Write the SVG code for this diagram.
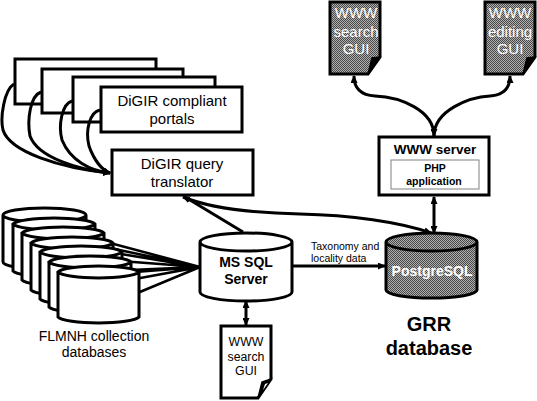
<svg xmlns="http://www.w3.org/2000/svg" width="537" height="401" viewBox="0 0 537 401">
<style>
text{font-family:"Liberation Sans",Arial,sans-serif;text-anchor:middle;fill:#000}
.box{fill:#fff;stroke:#000;stroke-width:3}
.cyl{fill:#fff;stroke:#000;stroke-width:3}
.gray{fill:url(#dith);stroke:#000;stroke-width:3}
.con{fill:none;stroke:#000;stroke-width:3}
.thin{fill:none;stroke:#000;stroke-width:2.5}
.w{fill:#fff}
.b{font-weight:bold}
.s{text-anchor:start}
</style>
<defs>
<pattern id="dith" width="2" height="2" patternUnits="userSpaceOnUse"><rect width="2" height="2" fill="#b0b0b0"/><rect width="1" height="1" fill="#484848"/><rect x="1" y="1" width="1" height="1" fill="#484848"/></pattern>
<marker id="a" markerWidth="8" markerHeight="7" refX="7" refY="3.500" orient="auto-start-reverse" markerUnits="userSpaceOnUse"><path d="M0 0L8 3.500L0 7z" fill="#000"/></marker>
</defs>
<g id="portal1"><rect class="box" x="15" y="59" width="141" height="45"/></g>
<g id="portal2"><rect class="box" x="42" y="69" width="141" height="44"/></g>
<g id="portal3"><rect class="box" x="73" y="77" width="142" height="45"/></g>
<g id="portal4"><rect class="box" x="101" y="87" width="141" height="45"/><text x="172" y="106" font-size="15">DiGIR compliant</text><text x="172" y="124" font-size="15">portals</text></g>
<g id="translator"><rect class="box" x="112" y="150" width="141" height="45"/><text x="182" y="169" font-size="15">DiGIR query</text><text x="182" y="187" font-size="15">translator</text></g>
<g id="connectors">
<path class="con" d="M14 84C4 90 0 118 3 130C10 152 60 168 110 173" marker-end="url(#a)"/>
<path class="con" d="M41 92C30 96 27 120 30 136C38 158 80 170 110 173" marker-end="url(#a)"/>
<path class="con" d="M72 101C62 104 58 125 62 140C70 160 90 171 110 173" marker-end="url(#a)"/>
<path class="con" d="M100 110C90 112 85 130 89 146C94 160 102 170 110 173" marker-end="url(#a)"/>
<path class="con" d="M183 197C210 208 250 213 300 214C350 215 400 222 431 233" marker-start="url(#a)" marker-end="url(#a)"/>
<path class="con" d="M243 232L185 197"/>
<path class="thin" d="M95 239L200 267M105 247L200 267M115 253L200 267M120 261L200 267M130 270L200 267M135 272L200 267M135 279L200 267M135 294L200 267"/>
<path class="con" d="M434 136C434 110 400 97 375 96C358 95 354 86 354 76" marker-start="url(#a)" marker-end="url(#a)"/>
<path class="con" d="M434 136C434 110 470 97 490 96C506 95 510 86 510 76" marker-end="url(#a)"/>
<path class="con" d="M434 197V233" marker-start="url(#a)" marker-end="url(#a)"/>
<path class="con" d="M292 266H385" marker-end="url(#a)"/>
<path class="con" d="M246 301V325" marker-start="url(#a)" marker-end="url(#a)"/>
</g>
<g id="db1"><path class="cyl" d="M3 215V262A41.500 7 0 0 0 86 262V215A41.500 7 0 0 0 3 215A41.500 7 0 0 0 86 215"/></g>
<g id="db2"><path class="cyl" d="M13 224V271A41.500 7 0 0 0 95 271V224A41.500 7 0 0 0 13 224A41.500 7 0 0 0 95 224"/></g>
<g id="db3"><path class="cyl" d="M22 233V280A41.500 7 0 0 0 104 280V233A41.500 7 0 0 0 22 233A41.500 7 0 0 0 104 233"/></g>
<g id="db4"><path class="cyl" d="M31 243V290A41.500 7 0 0 0 113 290V243A41.500 7 0 0 0 31 243A41.500 7 0 0 0 113 243"/></g>
<g id="db5"><path class="cyl" d="M40 252V299A41.500 7 0 0 0 122 299V252A41.500 7 0 0 0 40 252A41.500 7 0 0 0 122 252"/></g>
<g id="db6"><path class="cyl" d="M49 262V307A41.500 7 0 0 0 131 307V262A41.500 7 0 0 0 49 262A41.500 7 0 0 0 131 262"/></g>
<g id="db7"><path class="cyl" d="M58 272V317A41 7 0 0 0 139 317V272A41 7 0 0 0 58 272A41 7 0 0 0 139 272"/></g>
<g id="flmnh-label"><text x="94" y="341" font-size="14">FLMNH collection</text><text x="94" y="357" font-size="14">databases</text></g>
<g id="mssql"><path class="cyl" d="M200 242V292A46 9 0 0 0 292 292V242A46 9 0 0 0 200 242A46 9 0 0 0 292 242"/><text x="246" y="267" font-size="14" class="b">MS SQL</text><text x="246" y="284" font-size="14" class="b">Server</text></g>
<g id="doc-bottom"><path class="box" d="M221 326H271V379L258 398H221Z"/><path d="M258 398L262 382L271 379Z" fill="#000" stroke="#000" stroke-width="1.500"/><path d="M263 390L265 384L268 383Z" fill="#fff"/><text x="246" y="346" font-size="12.300">WWW</text><text x="246" y="361" font-size="12.300">search</text><text x="246" y="375" font-size="12.300">GUI</text></g>
<g id="doc-search"><path class="gray" d="M330 2H380V57L368 74H330Z"/><path d="M368 74L372 58L380 57Z" fill="#000" stroke="#000" stroke-width="1.500"/><text x="356" y="18" font-size="15" class="w">WWW</text><text x="356" y="37" font-size="15" class="w">search</text><text x="356" y="54" font-size="15" class="w">GUI</text></g>
<g id="doc-editing"><path class="gray" d="M485 2H535V57L523 74H485Z"/><path d="M523 74L527 58L535 57Z" fill="#000" stroke="#000" stroke-width="1.500"/><text x="510" y="18" font-size="15" class="w">WWW</text><text x="510" y="37" font-size="15" class="w">editing</text><text x="510" y="54" font-size="15" class="w">GUI</text></g>
<g id="www-server"><rect class="box" x="379" y="137" width="110" height="58"/><text x="435" y="154" font-size="13.500" class="b">WWW server</text><rect x="391" y="160" width="88" height="29" fill="#fff" stroke="#808080"/><text x="435" y="172" font-size="10.500" class="b">PHP</text><text x="434" y="185" font-size="10.500" class="b">application</text></g>
<g id="postgres"><path class="gray" d="M386 242V290A45.500 8 0 0 0 477 290V242A45.500 9 0 0 0 386 242A45.500 9 0 0 0 477 242"/><text x="432" y="276" font-size="14" class="b w">PostgreSQL</text></g>
<g id="taxonomy-label"><text x="311" y="250" font-size="10.500" class="s">Taxonomy and</text><text x="311" y="262" font-size="10.500" class="s">locality data</text></g>
<g id="grr-label"><text x="429" y="331" font-size="20" class="b">GRR</text><text x="429" y="355" font-size="20" class="b">database</text></g>
</svg>
